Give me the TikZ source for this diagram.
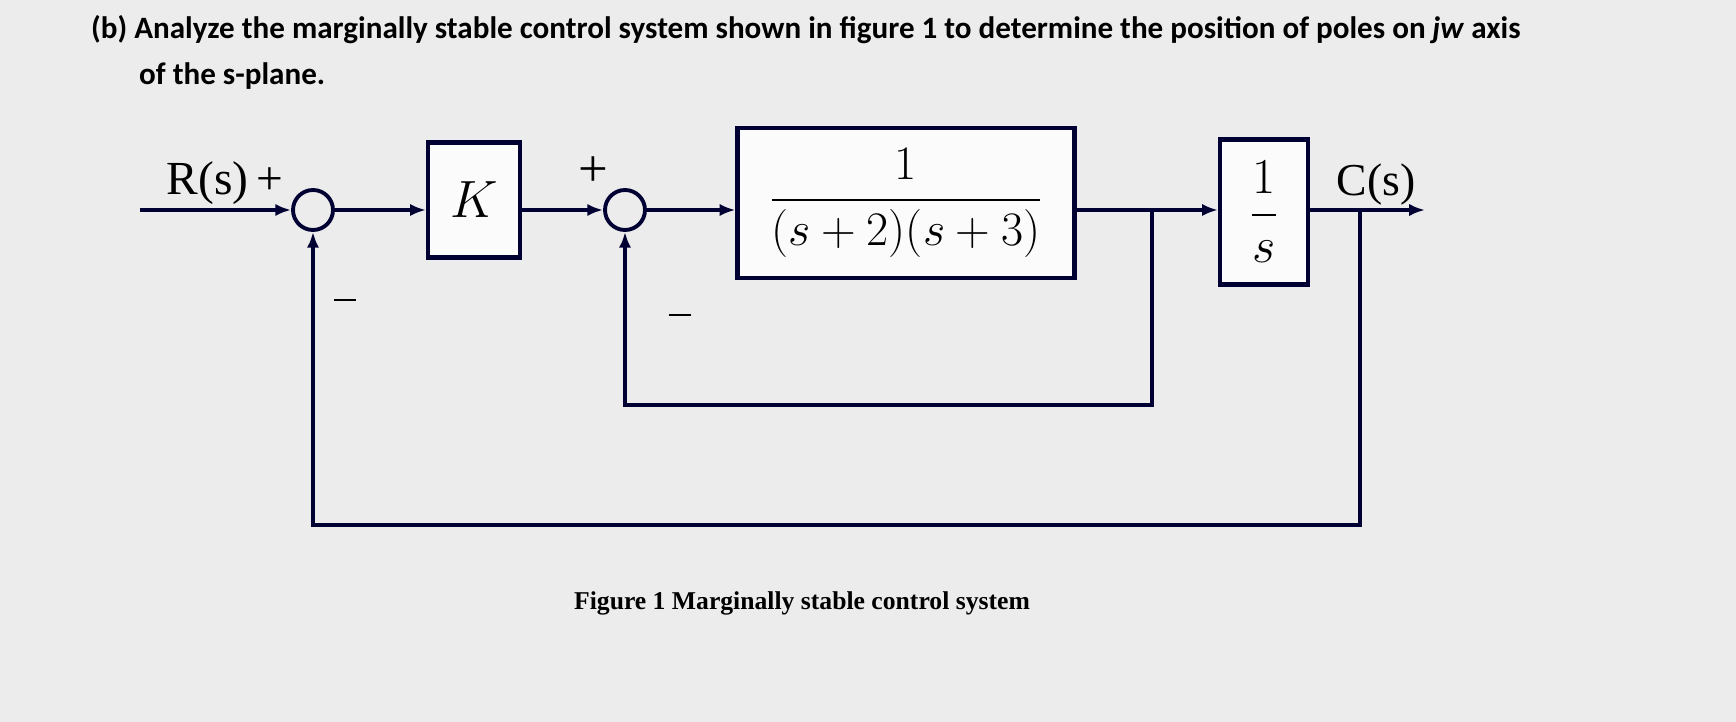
\documentclass[tikz,border=0pt]{standalone}
\usepackage{amsmath}
\usepackage{graphicx}
\usepackage{fontspec}
\setmainfont{Liberation Serif}
\newfontfamily\titlefont{Carlito}
\usetikzlibrary{arrows.meta}
\begin{document}
\begin{tikzpicture}[x=0.02cm,y=-0.02cm,
  wire/.style={draw=black!80!blue,line width=2.2pt},
  arr/.style={wire,-{Latex[length=9pt,width=7pt]}},
  blk/.style={draw=black!80!blue,line width=2.4pt,fill=white!97!gray},
  sumj/.style={circle,draw=black!80!blue,line width=2.2pt,minimum size=0.8cm,inner sep=0pt}]
\fill[gray!15] (0,0) rectangle (1736,722);
\useasboundingbox (0,0) rectangle (1736,722);
\node[anchor=west,font=\titlefont\bfseries\fontsize{17.7}{20}\selectfont] (t1) at (85,30) {(b) Analyze the marginally stable control system shown in figure 1 to determine the position of poles on \textit{jw} axis};
\node[anchor=west,font=\titlefont\bfseries\fontsize{17.7}{20}\selectfont] (t2) at (133,76) {of the s-plane.};
\node[sumj] (s1) at (313,210) {};
\node[sumj] (s2) at (625,210) {};
\node[blk,minimum width=1.84cm,minimum height=2.3cm] (k) at (474,200) {\scalebox{1.2}{\fontsize{24}{28}\selectfont$K$}};
\node[blk,minimum width=6.74cm,minimum height=3cm] (g) at (906,203) {\scalebox{1.1}{\fontsize{24}{28}\selectfont$\dfrac{1}{(s+2)(s+3)}$}};
\node[blk,minimum width=1.76cm,minimum height=2.9cm] (i) at (1264,212) {\scalebox{1.15}{\fontsize{24}{28}\selectfont$\dfrac{1}{s}$}};
\coordinate (in) at (140,210);
\coordinate (out) at (1425,210);
\coordinate (b1) at (1152,210);
\coordinate (b2) at (1360,210);
\draw[arr] (in) -- (s1.west);
\draw[arr] (s1.east) -- (k.west|-s1.east);
\draw[arr] (k.east|-s2) -- (s2.west);
\draw[arr] (s2.east) -- (g.west|-s2.east);
\draw[arr] (g.east|-b1) -- (i.west|-b1);
\draw[arr] (i.east|-b2) -- (out);
\draw[arr] (b1) -- (1152,405) -- (s2.south|-0,405) -- (s2.south);
\draw[arr] (b2) -- (1360,525) -- (s1.south|-0,525) -- (s1.south);
\node[font=\fontsize{27}{30}\selectfont] (r) at (225,183) {R(s)\,+};
\node[font=\fontsize{30}{30}\selectfont] (p2) at (593,172) {+};
\node[font=\fontsize{26}{30}\selectfont] (c) at (1376,185) {C(s)};
\node (m1) at (345,300) {\rule{0.44cm}{1.6pt}};
\node (m2) at (680,315) {\rule{0.44cm}{1.6pt}};
\node[font=\bfseries\fontsize{14.6}{16}\selectfont] (cap) at (802,603) {Figure 1 Marginally stable control system};
\end{tikzpicture}
\end{document}
